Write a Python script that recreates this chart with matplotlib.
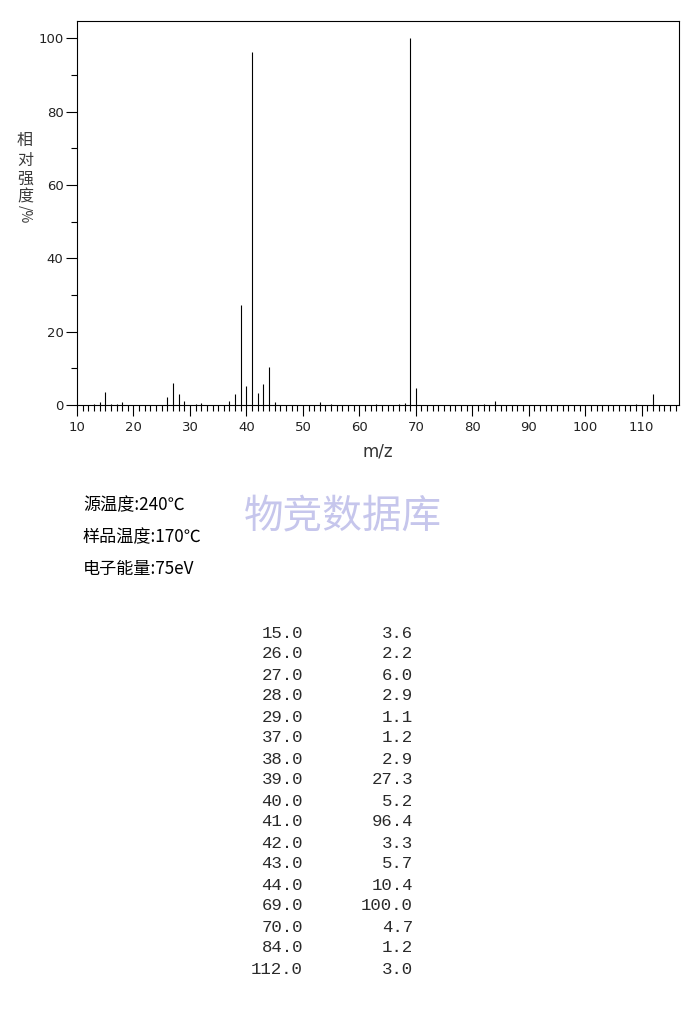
import matplotlib
matplotlib.use("Agg")
import matplotlib.pyplot as plt
from matplotlib.ticker import MultipleLocator

# ---- data ----
mz = [13, 14, 15, 16, 17, 18, 26, 27, 28, 29, 31, 32, 37, 38, 39, 40, 41, 42, 43, 44,
      45, 53, 55, 63, 67, 68, 69, 70, 82, 84, 109, 112]
intensity = [0.4, 0.8, 3.6, 0.4, 0.4, 0.8, 2.2, 6.0, 2.9, 1.1, 0.4, 0.6, 1.2, 2.9, 27.3, 5.2,
             96.4, 3.3, 5.7, 10.4, 0.8, 0.8, 0.4, 0.2, 0.3, 0.5, 100.0, 4.7, 0.3, 1.2, 0.3, 3.0]

table_mz = [15.0, 26.0, 27.0, 28.0, 29.0, 37.0, 38.0, 39.0, 40.0, 41.0, 42.0, 43.0,
            44.0, 69.0, 70.0, 84.0, 112.0]
table_int = [3.6, 2.2, 6.0, 2.9, 1.1, 1.2, 2.9, 27.3, 5.2, 96.4, 3.3, 5.7, 10.4,
             100.0, 4.7, 1.2, 3.0]

info_lines = ["源温度:240℃", "样品温度:170℃", "电子能量:75eV"]
ylabel_chars = ["相", "对", "强", "度"]
watermark = "物竞数据库"

W, H = 687, 1034
fig = plt.figure(figsize=(W / 100, H / 100), dpi=100)
fig.patch.set_facecolor("white")

def fx(px):
    return px / W

def fy(py):
    return 1 - py / H

ax = fig.add_axes([fx(77), fy(405), fx(679) - fx(77), fy(20.7) - fy(405)])
ax.vlines(mz, 0, intensity, colors="black", linewidth=0.8)
ax.set_xlim(10, 116.6)
ax.set_ylim(0, 104.8)
for s in ax.spines.values():
    s.set_linewidth(0.8)
    s.set_color("black")
ax.xaxis.set_major_locator(MultipleLocator(10))
ax.xaxis.set_minor_locator(MultipleLocator(1))
ax.yaxis.set_major_locator(MultipleLocator(20))
ax.yaxis.set_minor_locator(MultipleLocator(10))
ax.tick_params(axis="both", which="major", direction="out", length=7.8, width=0.8,
               labelsize=9.5, colors="black")
ax.tick_params(axis="both", which="minor", direction="out", length=4.2, width=0.8)
ax.tick_params(axis="x", which="major", pad=3.5)
ax.tick_params(axis="y", which="major", pad=2)
for lab in ax.get_xticklabels() + ax.get_yticklabels():
    lab.set_color("#222222")
ax.set_xlabel("m/z", fontsize=12, color="#333333", labelpad=6)

cjk = ["Noto Sans CJK SC", "DejaVu Sans"]

# vertical y label
ys = [140, 160, 179, 197]
for ch, y in zip(ylabel_chars, ys):
    fig.text(fx(25), fy(y), ch, family=cjk, fontsize=11.5, color="#3a3a3a",
             ha="center", va="center")
fig.text(fx(25), fy(214), "/%", family=cjk, fontsize=10, color="#3a3a3a",
         ha="center", va="center", rotation=-90)

# info lines
for i, line in enumerate(info_lines):
    fig.text(fx(83), fy(505 + 32 * i), line, family=cjk, fontsize=12.3,
             color="black", ha="left", va="center")

# watermark
fig.text(fx(343), fy(516), watermark, family=cjk, fontsize=28.5, color="#c6c6ec",
         ha="center", va="center")

# table
for i, (m, v) in enumerate(zip(table_mz, table_int)):
    y = fy(633 + 21 * i)
    fig.text(fx(303), y, f"{m:.1f}", family="Liberation Mono", fontsize=12.5,
             color="#2a2a2a", ha="right", va="center")
    fig.text(fx(413), y, f"{v:.1f}", family="Liberation Mono", fontsize=12.5,
             color="#2a2a2a", ha="right", va="center")

fig.savefig("out.png", dpi=100, facecolor="white")
